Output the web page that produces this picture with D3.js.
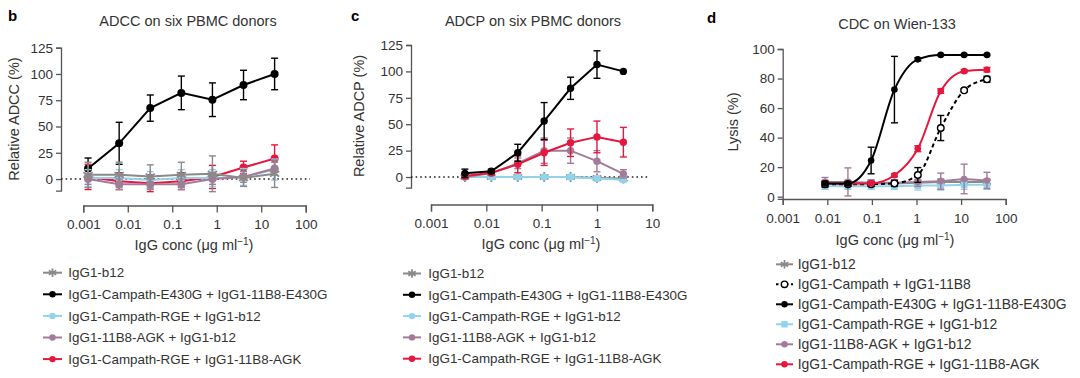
<!DOCTYPE html>
<html>
<head>
<meta charset="utf-8">
<script src="https://cdn.jsdelivr.net/npm/d3@7"></script>
<style>
  body { margin: 0; background: #fff; }
  svg text { font-family: "Liberation Sans", Arial, sans-serif; fill: #333; }
</style>
</head>
<body>
<svg id="chart" width="1080" height="378"></svg>
<script>
// ---------- data ----------
const xTicksWide = [0.001, 0.01, 0.1, 1, 10, 100];
const xTickLabelsWide = ["0.001", "0.01", "0.1", "1", "10", "100"];
const xTicksC = [0.001, 0.01, 0.1, 1, 10];
const xTickLabelsC = ["0.001", "0.01", "0.1", "1", "10"];
const yTicksRel = [0, 25, 50, 75, 100, 125];
const yTicksLysis = [0, 20, 40, 60, 80, 100];

const namesBC = [
  "IgG1-b12",
  "IgG1-Campath-E430G + IgG1-11B8-E430G",
  "IgG1-Campath-RGE + IgG1-b12",
  "IgG1-11B8-AGK + IgG1-b12",
  "IgG1-Campath-RGE + IgG1-11B8-AGK"
];
const namesD = [
  "IgG1-b12",
  "IgG1-Campath + IgG1-11B8",
  "IgG1-Campath-E430G + IgG1-11B8-E430G",
  "IgG1-Campath-RGE + IgG1-b12",
  "IgG1-11B8-AGK + IgG1-b12",
  "IgG1-Campath-RGE + IgG1-11B8-AGK"
];

// panel b: ADCC
const concB = [0.00128, 0.0064, 0.032, 0.16, 0.8, 4, 20];
const b12B = [4, 4, 2.5, 4, 5, 1, 5];
const b12BErr = [12, 12, 11, 12, 17, 8, 13];
const e430B = [10, 34, 67.5, 82, 75.5, 89.5, 100];
const e430BErr = [10, 20, 12.5, 16, 16, 14, 15];
const rgeB12B = [1, 1, -1, 1, 1, 2, 9];
const rgeB12BErr = [8, 8, 8, 8, 8, 8, 10];
const agkB12B = [0, -5, -5, -5, 0, 2, 10];
const agkB12BErr = [5, 5, 5, 5, 5, 5, 6];
const rgeAgkB = [2, -2, -4, -2, 2, 11, 19.5];
const rgeAgkBErr = [12, 8, 8, 8, 11, 6, 13];

// panel c: ADCP
const concC = [0.0041, 0.0123, 0.037, 0.111, 0.333, 1, 3];
const b12C = [0, 0, 0, 0, 0, -1, -1.5];
const b12CErr = [1, 1, 1, 1, 1, 1, 1];
const e430C = [3.5, 5.5, 23, 53, 84, 106.5, 100];
const e430CErr = [4, 2, 8, 17.5, 10.5, 13, 0];
const rgeB12C = [0, 0, 0, 0, 0, -1.5, -2.5];
const rgeB12CErr = [2, 2, 2, 2, 2, 2, 2];
const agkB12C = [0, 3.5, 13, 25, 25, 15, 3];
const agkB12CErr = [2, 2, 5, 12, 12, 10, 4];
const rgeAgkC = [1, 4, 12, 23, 32.5, 38, 33];
const rgeAgkCErr = [2, 2, 8, 12, 13, 15, 14];

// panel d: CDC
const concD = [0.0089, 0.029, 0.096, 0.32, 1.07, 3.5, 11.7, 38];
const b12D = [9, 9, 9, 9, 9.5, 10, 10, 10];
const b12DErr = [2, 2, 2, 2, 2, 2, 2, 2];
const campD = [8.5, 8.5, 8.5, 9, 14.7, 46.5, 72, 79.5];
const campDErr = [2, 1.5, 1.5, 2, 5, 8.5, 1, 2];
const e430D = [9, 9, 24.5, 72.5, 93, 96, 96, 96];
const e430DErr = [1, 1, 9, 22.5, 1, 0.5, 0.5, 0.5];
const rgeB12D = [7, 7, 7, 7, 7.5, 7.5, 8, 8];
const rgeB12DErr = [2, 2, 2, 2, 3, 3, 3, 3];
const agkB12D = [10, 10, 9.5, 9.5, 10, 10.5, 12, 11];
const agkB12DErr = [3, 9.5, 2, 2, 3, 5.5, 10, 5.5];
const rgeAgkD = [9, 9, 9, 14.5, 32.5, 71.5, 85, 86];
const rgeAgkDErr = [1, 1, 1, 1, 2, 1.5, 1, 1.5];

// ---------- styles ----------
const cGray = "#8a8a8a", cBlack = "#000", cBlue = "#92d3ec", cMauve = "#a37b99", cRed = "#e5173f";
const axisColor = "#555";

const svg = d3.select("#chart");

function marker(sel, type, color, r) {
  if (type === "star") {
    sel.append("path")
      .attr("d", d3.symbol().type(d3.symbolAsterisk).size(r * r * 5)())
      .attr("fill", "none").attr("stroke", color).attr("stroke-width", 1.8);
  } else if (type === "open") {
    sel.append("circle").attr("r", r).attr("fill", "#fff")
      .attr("stroke", color).attr("stroke-width", 1.4);
  } else if (type === "square") {
    sel.append("rect").attr("x", -r).attr("y", -r).attr("width", 2 * r).attr("height", 2 * r)
      .attr("fill", color);
  } else {
    sel.append("circle").attr("r", r).attr("fill", color);
  }
}

function drawPanel(p) {
  const x = d3.scaleLog().domain(p.xDomain).range(p.xRange);
  const y = d3.scaleLinear().domain(p.yDomain).range(p.yRange);
  const g = svg.append("g");

  // axes
  const xa = g.append("g")
    .attr("transform", `translate(0,${p.xAxisY})`)
    .call(d3.axisBottom(x).tickValues(p.xTicks)
      .tickFormat((d, i) => p.xTickLabels[i])
      .tickSizeOuter(0).tickSize(p.xTickSize).tickPadding(p.xTickPad));
  const ya = g.append("g")
    .attr("transform", `translate(${p.yAxisX},0)`)
    .call(d3.axisLeft(y).tickValues(p.yTicks).tickSizeOuter(0).tickSize(5).tickPadding(3));
  [xa, ya].forEach(a => {
    a.attr("font-family", null).attr("font-size", 13.5);
    a.selectAll("path, line").attr("stroke", axisColor).attr("stroke-width", 1.3);
    a.selectAll("text").attr("fill", "#333");
  });

  // zero reference line
  if (p.zeroLine) {
    g.append("line")
      .attr("x1", p.yAxisX).attr("x2", p.zeroLine)
      .attr("y1", y(0)).attr("y2", y(0))
      .attr("stroke", "#222").attr("stroke-width", 1.6)
      .attr("stroke-dasharray", "1.6,3");
  }

  // series
  p.series.forEach(s => {
    const pts = p.conc.map((c, i) => ({ c, v: s.vals[i], e: s.errs[i] }));
    const sg = g.append("g");
    // error bars
    const eb = sg.selectAll(".eb").data(pts.filter(d => d.e > 0)).join("g");
    eb.append("line")
      .attr("x1", d => x(d.c)).attr("x2", d => x(d.c))
      .attr("y1", d => y(d.v - d.e)).attr("y2", d => y(d.v + d.e));
    eb.append("line")
      .attr("x1", d => x(d.c) - 3.5).attr("x2", d => x(d.c) + 3.5)
      .attr("y1", d => y(d.v + d.e)).attr("y2", d => y(d.v + d.e));
    eb.append("line")
      .attr("x1", d => x(d.c) - 3.5).attr("x2", d => x(d.c) + 3.5)
      .attr("y1", d => y(d.v - d.e)).attr("y2", d => y(d.v - d.e));
    eb.selectAll("line").attr("stroke", s.color).attr("stroke-width", 1.4);
    // line
    const line = d3.line().x(d => x(d.c)).y(d => y(d.v))
      .curve(s.smooth ? d3.curveMonotoneX : d3.curveLinear);
    sg.append("path").attr("d", line(pts))
      .attr("fill", "none").attr("stroke", s.color).attr("stroke-width", 2)
      .attr("stroke-dasharray", s.dashed ? "4,3" : null);
    // markers
    sg.selectAll(".mk").data(pts).join("g")
      .attr("transform", d => `translate(${x(d.c)},${y(d.v)})`)
      .each(function () { marker(d3.select(this), s.marker, s.color, p.r); });
  });

  // titles
  g.append("text").attr("x", p.labelPos[0]).attr("y", p.labelPos[1])
    .attr("font-size", 15).attr("font-weight", "bold").style("fill", "#000").text(p.label);
  g.append("text").attr("x", p.titlePos[0]).attr("y", p.titlePos[1])
    .attr("text-anchor", "middle").attr("dy", "0.35em").attr("font-size", 14.5).text(p.title);
  g.append("text")
    .attr("transform", `translate(${p.yTitlePos[0]},${p.yTitlePos[1]}) rotate(-90)`)
    .attr("text-anchor", "middle").attr("dy", "0.35em").attr("font-size", 14.5).text(p.yTitle);
  const xt = g.append("text").attr("x", p.xTitlePos[0]).attr("y", p.xTitlePos[1])
    .attr("text-anchor", "middle").attr("dy", "0.35em").attr("font-size", 14.5);
  xt.append("tspan").text("IgG conc (\u03bcg ml");
  xt.append("tspan").attr("font-size", 10).attr("dy", -5).text("\u22121");
  xt.append("tspan").attr("dy", 5).text(")");

  // legend
  const lg = g.append("g").attr("transform", `translate(${p.legend.x},${p.legend.y})`);
  p.legendOrder.forEach((s, i) => {
    const row = lg.append("g").attr("transform", `translate(0,${i * p.legend.dy})`);
    row.append("line").attr("x1", 0).attr("x2", p.legend.w).attr("y1", 0).attr("y2", 0)
      .attr("stroke", s.color).attr("stroke-width", 2)
      .attr("stroke-dasharray", s.dashed ? "2.5,2.5" : null);
    const m = row.append("g").attr("transform", `translate(${p.legend.w / 2},0)`);
    marker(m, s.marker, s.color, 3.2);
    row.append("text").attr("x", p.legend.tx).attr("dy", "0.35em")
      .attr("font-size", p.legend.fs).text(s.name);
  });
}

// ---------- series definitions ----------
const sB = {
  b12: { name: namesBC[0], vals: b12B, errs: b12BErr, color: cGray, marker: "star" },
  e430: { name: namesBC[1], vals: e430B, errs: e430BErr, color: cBlack, marker: "circle" },
  rgeB12: { name: namesBC[2], vals: rgeB12B, errs: rgeB12BErr, color: cBlue, marker: "circle" },
  agkB12: { name: namesBC[3], vals: agkB12B, errs: agkB12BErr, color: cMauve, marker: "circle" },
  rgeAgk: { name: namesBC[4], vals: rgeAgkB, errs: rgeAgkBErr, color: cRed, marker: "circle" }
};
const sC = {
  b12: { name: namesBC[0], vals: b12C, errs: b12CErr, color: cGray, marker: "star" },
  e430: { name: namesBC[1], vals: e430C, errs: e430CErr, color: cBlack, marker: "circle" },
  rgeB12: { name: namesBC[2], vals: rgeB12C, errs: rgeB12CErr, color: cBlue, marker: "circle" },
  agkB12: { name: namesBC[3], vals: agkB12C, errs: agkB12CErr, color: cMauve, marker: "circle" },
  rgeAgk: { name: namesBC[4], vals: rgeAgkC, errs: rgeAgkCErr, color: cRed, marker: "circle" }
};
const sD = {
  b12: { name: namesD[0], vals: b12D, errs: b12DErr, color: cGray, marker: "star" },
  camp: { name: namesD[1], vals: campD, errs: campDErr, color: cBlack, marker: "open", dashed: true, smooth: true },
  e430: { name: namesD[2], vals: e430D, errs: e430DErr, color: cBlack, marker: "circle", smooth: true },
  rgeB12: { name: namesD[3], vals: rgeB12D, errs: rgeB12DErr, color: cBlue, marker: "square" },
  agkB12: { name: namesD[4], vals: agkB12D, errs: agkB12DErr, color: cMauve, marker: "circle" },
  rgeAgk: { name: namesD[5], vals: rgeAgkD, errs: rgeAgkDErr, color: cRed, marker: "circle", smooth: true }
};

drawPanel({
  label: "b", labelPos: [8, 21], title: "ADCC on six PBMC donors", titlePos: [188, 21],
  yTitle: "Relative ADCC (%)", yTitlePos: [14, 119], xTitlePos: [194, 245],
  conc: concB, xDomain: [0.001, 100], xRange: [83.3, 305.7], xAxisY: 205.5,
  xTicks: xTicksWide, xTickLabels: xTickLabelsWide, xTickSize: 7, xTickPad: 7,
  yDomain: [-11, 125], yRange: [190.6, 47.7], yAxisX: 61, yTicks: yTicksRel,
  zeroLine: 310, r: 4,
  series: [sB.e430, sB.rgeAgk, sB.rgeB12, sB.agkB12, sB.b12],
  legendOrder: [sB.b12, sB.e430, sB.rgeB12, sB.agkB12, sB.rgeAgk],
  legend: { x: 43, y: 272.7, dy: 21.6, w: 19, tx: 25.3, fs: 13.4 }
});

drawPanel({
  label: "c", labelPos: [351, 21], title: "ADCP on six PBMC donors", titlePos: [533, 21],
  yTitle: "Relative ADCP (%)", yTitlePos: [359, 116], xTitlePos: [541, 244],
  conc: concC, xDomain: [0.001, 10], xRange: [431, 652.3], xAxisY: 204.5,
  xTicks: xTicksC, xTickLabels: xTickLabelsC, xTickSize: 7, xTickPad: 7,
  yDomain: [-10, 125], yRange: [187.6, 45], yAxisX: 411, yTicks: yTicksRel,
  zeroLine: 650, r: 3.7,
  series: [sC.b12, sC.rgeB12, sC.agkB12, sC.rgeAgk, sC.e430],
  legendOrder: [sC.b12, sC.e430, sC.rgeB12, sC.agkB12, sC.rgeAgk],
  legend: { x: 403, y: 273.5, dy: 21.3, w: 18, tx: 25.3, fs: 13.4 }
});

drawPanel({
  label: "d", labelPos: [707, 23], title: "CDC on Wien-133", titlePos: [897, 24],
  yTitle: "Lysis (%)", yTitlePos: [733, 122], xTitlePos: [895, 239.5],
  conc: concD, xDomain: [0.001, 100], xRange: [782.7, 1005.7], xAxisY: 199,
  xTicks: xTicksWide, xTickLabels: xTickLabelsWide, xTickSize: 6, xTickPad: 8,
  yDomain: [-1.5, 100], yRange: [198.9, 49], yAxisX: 782.7, yTicks: yTicksLysis,
  zeroLine: null, r: 3.3,
  series: [sD.b12, sD.rgeB12, sD.agkB12, sD.camp, sD.rgeAgk, sD.e430],
  legendOrder: [sD.b12, sD.camp, sD.e430, sD.rgeB12, sD.agkB12, sD.rgeAgk],
  legend: { x: 776, y: 264.3, dy: 20, w: 17, tx: 21.7, fs: 13.9 }
});
</script>
</body>
</html>
